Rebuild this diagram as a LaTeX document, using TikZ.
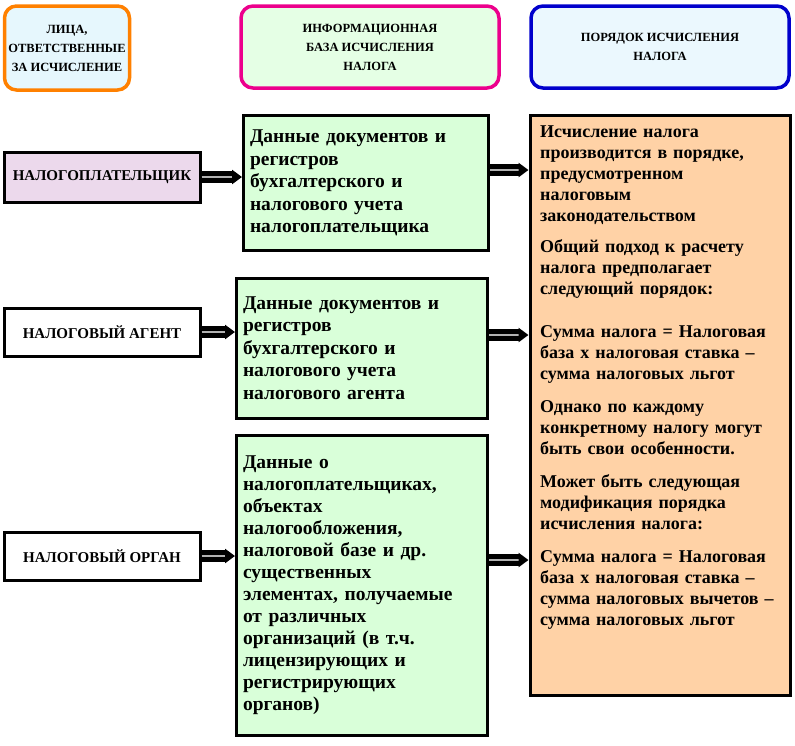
\documentclass[tikz,border=0pt]{standalone}
\usepackage{fontspec}
\setmainfont{Liberation Serif}
\usetikzlibrary{arrows.meta}
\begin{document}
\begin{tikzpicture}[x=1pt,y=-1pt,
 hdr/.style={draw,line width=3.5pt,rounded corners=12pt,align=center,font=\bfseries\fontsize{12.5}{19}\selectfont,inner sep=0pt},
 lbox/.style={draw,line width=3pt,align=center,font=\bfseries\fontsize{15}{18}\selectfont,inner sep=0pt},
 gbox/.style={draw,line width=3pt,fill=green!15,align=left,font=\bfseries\fontsize{19.5}{22.5}\selectfont,inner sep=0pt},
 arr/.style={line width=4.5pt,double=gray!60,double distance=2.5pt,-{Triangle[length=10pt,width=14pt]}}]
\useasboundingbox (0,0) rectangle (795,745);
\node[hdr,draw=orange,fill=cyan!10,minimum width=125pt,minimum height=84pt] (h1) at (67,48) {ЛИЦА,\\ОТВЕТСТВЕННЫЕ\\ЗА ИСЧИСЛЕНИЕ};
\node[hdr,draw=magenta,fill=green!10,minimum width=258pt,minimum height=82pt] (h2) at (370,47) {ИНФОРМАЦИОННАЯ\\БАЗА ИСЧИСЛЕНИЯ\\НАЛОГА};
\node[hdr,draw=blue!80!black,fill=cyan!8,minimum width=258pt,minimum height=82pt] (h3) at (660,47) {ПОРЯДОК ИСЧИСЛЕНИЯ\\НАЛОГА};

\node[lbox,fill=violet!15,minimum width=196pt,minimum height=50pt] (l1) at (102,177) {НАЛОГОПЛАТЕЛЬЩИК};
\node[lbox,fill=white,minimum width=196pt,minimum height=48pt] (l2) at (102,332) {НАЛОГОВЫЙ АГЕНТ};
\node[lbox,fill=white,minimum width=196pt,minimum height=48pt] (l3) at (102,556) {НАЛОГОВЫЙ ОРГАН};

\node[gbox,minimum width=245pt,minimum height=135pt,text width=232pt] (m1) at (366,183) {Данные документов и\\регистров\\бухгалтерского и\\налогового учета\\налогоплательщика};
\node[gbox,minimum width=251pt,minimum height=140pt,text width=238pt] (m2) at (362,348) {Данные документов и\\регистров\\бухгалтерского и\\налогового учета\\налогового агента};
\node[gbox,minimum width=251pt,minimum height=300pt,text width=238pt,font=\bfseries\fontsize{19.5}{22}\selectfont] (m3) at (362,585) {Данные о\\налогоплательщиках,\\объектах\\налогообложения,\\налоговой базе и др.\\существенных\\элементах, получаемые\\от различных\\организаций (в т.ч.\\лицензирующих и\\регистрирующих\\органов)};

\node[draw,line width=3pt,fill=orange!35,minimum width=260pt,minimum height=580pt,inner sep=0pt] (r) at (660,405) {};
\node[anchor=north west,align=left,text width=248pt,font=\bfseries\fontsize{18}{21}\selectfont,inner sep=0pt] (rt) at (540,126) {Исчисление налога\\производится в порядке,\\предусмотренном\\налоговым\\законодательством\\[10pt]
Общий подход к расчету\\налога предполагает\\следующий порядок:\\[22pt]
Сумма налога = Налоговая\\база х налоговая ставка –\\сумма налоговых льгот\\[12pt]
Однако по каждому\\конкретному налогу могут\\быть свои особенности.\\[12pt]
Может быть следующая\\модификация порядка\\исчисления налога:\\[12pt]
Сумма налога = Налоговая\\база х налоговая ставка –\\сумма налоговых вычетов –\\сумма налоговых льгот};

\draw[arr] (l1.east) -- (m1.west|-l1.east);
\draw[arr] (l2.east) -- (m2.west|-l2.east);
\draw[arr] (l3.east) -- (m3.west|-l3.east);
\draw[arr] (m1.east|-0,170) -- (r.west|-0,170);
\draw[arr] (m2.east|-0,335) -- (r.west|-0,335);
\draw[arr] (m3.east|-0,560) -- (r.west|-0,560);
\end{tikzpicture}
\end{document}
